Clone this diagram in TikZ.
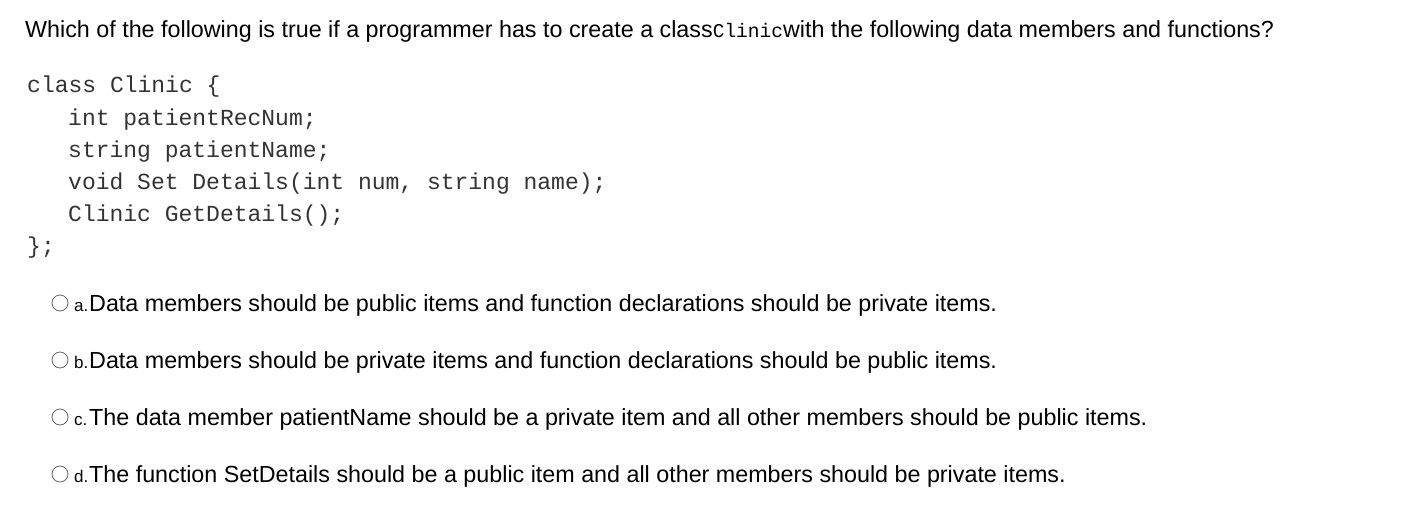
\documentclass[tikz,border=0pt]{standalone}
\usepackage{fontspec}
\setmainfont{Liberation Sans}
\setmonofont{Liberation Mono}
\begin{document}
\begin{tikzpicture}[x=1pt,y=-1pt,
  txt/.style={anchor=base west,inner sep=0pt,font=\fontsize{23.3}{26}\selectfont},
  code/.style={anchor=base west,inner sep=0pt,font=\ttfamily\fontsize{23}{26}\selectfont,text=black!80},
  radio/.style={circle,draw=black!60,line width=0.8pt,minimum size=16pt,inner sep=0pt}]
\useasboundingbox (0,0) rectangle (1404,524);
\node[txt] (q) at (25,38) {Which of the following is true if a programmer has to create a class{\ttfamily\fontsize{19.5}{22}\selectfont Clinic}with the following data members and functions?};
\node[code] (c1) at (27,93) {class Clinic \{};
\node[code] (c2) at (68,125) {int patientRecNum;};
\node[code] (c3) at (68,157) {string patientName;};
\node[code] (c4) at (68,189) {void Set Details(int num, string name);};
\node[code] (c5) at (68,221) {Clinic GetDetails();};
\node[code] (c6) at (27,253) {\};};
\foreach \y/\l/\t [count=\i] in {311/a./Data members should be public items and function declarations should be private items.,
  368/b./Data members should be private items and function declarations should be public items.,
  425/c./The data member patientName should be a private item and all other members should be public items.,
  482/d./The function SetDetails should be a public item and all other members should be private items.}{
  \node[radio] (r\i) at (60,\y-8) {};
  \node[txt,font=\fontsize{17}{20}\selectfont] (l\i) at (74,\y) {\l};
  \node[txt] (o\i) at (89,\y) {\t};
}
\end{tikzpicture}
\end{document}
